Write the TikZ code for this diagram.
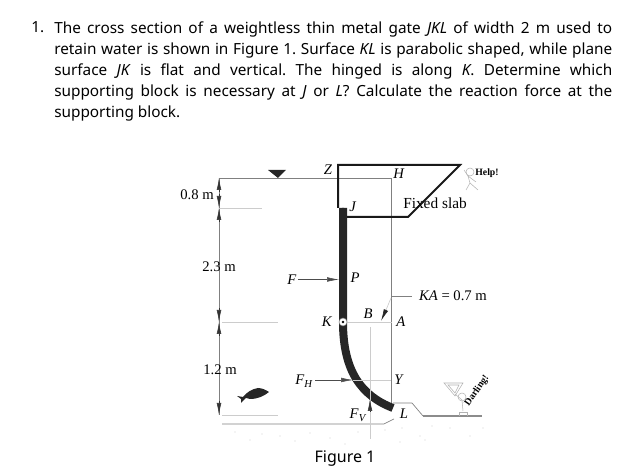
\documentclass[tikz,border=0pt]{standalone}
\usepackage{fontspec}
\setmainfont{Liberation Serif}
\newfontfamily\bodyfont{Noto Sans}
\usetikzlibrary{positioning, arrows.meta, calc}
\newcommand{\lowit}[2]{\textit{#1}{\footnotesize\raisebox{-2pt}{\textit{#2}}}}
\begin{document}
\frenchspacing
\begin{tikzpicture}[x=0.75pt, y=-0.75pt, >={Latex[length=9pt,width=3.5pt]},
    guide/.style = {draw=black!50, line width=0.5pt},
    faint/.style = {draw=black!20, line width=0.5pt},
    slab/.style = {draw=black!90, line width=1.5pt},
    toy/.style = {draw=black!30, line width=0.4pt},
    lab/.style = {font=\fontsize{11}{13}\selectfont},
    tiny/.style = {font=\fontsize{7.3}{9}\selectfont\bfseries, inner sep=0pt},
    para/.style = {font=\bodyfont\fontsize{11.5}{15.75}\selectfont, inner sep=0pt}]
    \useasboundingbox (0,0) rectangle (640,473);
    % question text
    \node[para, anchor=base west] (num) at (31,33) {1.};
    \node[para, anchor=north west, text width=418.5pt, align=justify] (question) at (54,22)
        {The cross section of a weightless thin metal gate \textit{JKL} of width 2 m used to\linebreak
        retain water is shown in Figure 1. Surface \textit{KL} is parabolic shaped, while plane\linebreak
        surface \textit{JK} is flat and vertical. The hinged is along \textit{K}. Determine which\linebreak
        supporting block is necessary at \textit{J} or \textit{L}? Calculate the reaction force at the\linebreak
        supporting block.};
    % points of the figure
    \coordinate (z) at (338,165);
    \coordinate (t) at (460,165);
    \coordinate (s) at (408,217);
    \coordinate (j) at (343,208);
    \coordinate (k) at (343,322);
    \coordinate (l) at (393,408);
    \coordinate (a) at (391.5,322);
    \coordinate (h) at (391.5,178);
    \coordinate (w) at (219,178);
    % water, ground
    \draw[guide] (w) -- (h) -- (391.5,405);
    \draw[guide] (222,424) -- (384,424) -- (394,419);
    \draw[guide] (393,403) -- (412,403) -- (423,416);
    \draw[draw=black!45, line width=1.1pt] (423,416) -- (482,416);
    \fill[black!85] (268,170) -- (286,170) -- (278,178) -- cycle;
    % depths
    \draw[guide] (219,178) -- (219,415);
    \draw[faint] (219,208) -- (262,208);
    \draw[faint] (222,322) -- (278,322);
    \draw[faint] (222,415) -- (278,415);
    \draw[->, black!80] (219,192) -- (219,178);
    \draw[->, black!80] (219,194) -- (219,208);
    \draw[->, black!80] (219,222) -- (219,208);
    \draw[->, black!80] (219,308) -- (219,322);
    \draw[->, black!80] (219,336) -- (219,322);
    \draw[->, black!80] (219,401) -- (219,415);
    \node[lab] (d1) at (197,195) {0.8 m};
    \node[lab] (d2) at (219,267) {2.3 m};
    \node[lab] (d3) at (220,370) {1.2 m};
    % fixed slab and gate
    \draw[slab] (j) -- (343,217) -- (s) -- (t) -- (z) -- (338,208);
    \draw[black!85, line width=6pt] (j) -- (k) .. controls (343,372) and (362,396) .. (l);
    % construction lines
    \draw[faint] (k) -- (a);
    \draw[faint] (370,327) -- (370,439);
    \draw[faint] (353,380) -- (391,380);
    \draw[guide] (391,296) -- (412,296);
    \draw[faint] (391,298) -- (386,310);
    \draw[black!85, line width=0.5pt, -{Latex[length=9pt,width=3.5pt]}] (386,310) -- (381,321);
    % hinge
    \node[circle, fill=white, draw=black!50, minimum size=6pt, inner sep=0pt] (hinge) at (k) {};
    \fill[black] (k) circle (1pt);
    % forces
    \draw[->, black!70, line width=0.4pt] (298,279.5) -- (339,279.5);
    \draw[->, black!70, line width=0.4pt] (315,380) -- (353,380);
    \draw[->, black!80, line width=0.4pt] (370,412) -- (370,399);
    % labels
    \node[lab] (zl) at (328,170) {\textit{Z}};
    \node[lab] (hl) at (399,174) {\textit{H}};
    \node[lab] (jl) at (353,207) {\textit{J}};
    \node[lab] (pl) at (355,278) {\textit{P}};
    \node[lab] (fl) at (292,280) {\textit{F}};
    \node[lab] (kl) at (327,322) {\textit{K}};
    \node[lab] (bl) at (368,314) {\textit{B}};
    \node[lab] (al) at (401,322) {\textit{A}};
    \node[lab] (yl) at (399,380) {\textit{Y}};
    \node[lab] (ll) at (404,414) {\textit{L}};
    \node[lab] (fh) at (304,381) {\lowit{F}{H}};
    \node[lab] (fv) at (358,415) {\lowit{F}{V}};
    \node[lab] (ka) at (453,296) {\textit{KA} = 0.7 m};
    \node[font=\fontsize{11.5}{13}\selectfont] (fs) at (435,203) {Fixed slab};
    \node[font=\bodyfont\fontsize{12}{14}\selectfont] (fig) at (345,459) {Figure 1};
    % fish
    \fill[black!85] (237,396) -- (243,397) .. controls (247,392) and (252,389) .. (258,388)
        .. controls (262,388) and (266,390) .. (269,392) .. controls (264,396) and (258,399) .. (250,399)
        -- (246,398) -- (241,403) -- (241,399) -- cycle;
    % man on the slab
    \draw[toy] (470,172) circle (3pt);
    \draw[toy] (464,170) -- (468,176) -- (470,183) -- (466,190);
    \draw[toy] (470,183) -- (478,190);
    \draw[toy] (468,176) -- (476,182);
    \node[tiny] (help) at (487,173) {Help!};
    % man on the ground
    \draw[toy] (444,383) -- (463,383) -- (455,396) -- cycle;
    \draw[toy] (448,385) -- (459,385) -- (455,393) -- cycle;
    \draw[toy] (462,397) circle (3pt);
    \draw[toy] (455,394) -- (462,400) -- (463,411);
    \draw[toy] (459,416) -- (459,412) -- (467,412) -- (467,416);
    \node[tiny, rotate=55] (darling) at (477,391) {Darling!};
    % sand
    \foreach \sx/\sy in {235/432,250/440,262/434,280/436,295/441,310/433,330/438,345/444,
        358/432,385/430,402/428,420/436,432/426,450/428,470/436,483/428,425/440,400/442}
        \fill[black!18] (\sx,\sy) circle (0.5pt);
\end{tikzpicture}
\end{document}
